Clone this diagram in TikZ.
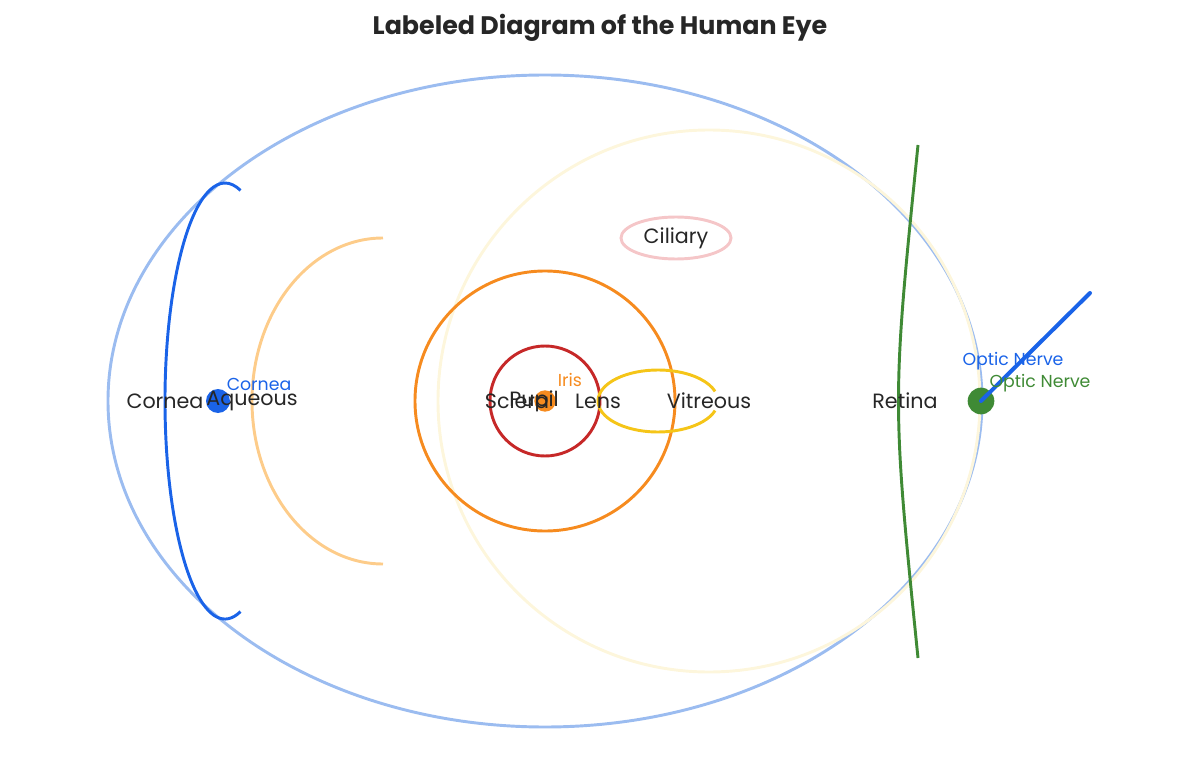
\documentclass[tikz,border=0pt]{standalone}
\usepackage{fontspec}
\setmainfont{Poppins}
\definecolor{lblue}{HTML}{9BBCF0}
\definecolor{cream}{HTML}{FDF6DC}
\definecolor{dblue}{HTML}{1A63E8}
\definecolor{lorange}{HTML}{FDCC8A}
\definecolor{orng}{HTML}{F68B1F}
\definecolor{rd}{HTML}{C62828}
\definecolor{yel}{HTML}{F5C518}
\definecolor{pnk}{HTML}{F5C6C8}
\definecolor{grn}{HTML}{3F8A35}
\begin{document}
\begin{tikzpicture}[x=0.75pt,y=-0.75pt,
  lbl/.style={font=\fontsize{15.5}{17}\selectfont,text=black!85,inner sep=0},
  small/.style={font=\fontsize{13}{15}\selectfont,inner sep=0},
  part/.style={line width=2.2pt}]
\useasboundingbox (0,0) rectangle (1200,763);
\node[font=\bfseries\fontsize{19}{22}\selectfont,text=black!85] (title) at (600,28) {Labeled Diagram of the Human Eye};
\draw[part,lblue] (545,401) ellipse [x radius=437,y radius=326];
\draw[part,cream] (709,401) circle [radius=271];
\draw[part,dblue] (225,401) ++(75:60 and 218) arc [start angle=75,end angle=285,x radius=60,y radius=218];
\draw[part,lorange] (383,238) arc [start angle=270,end angle=90,x radius=131,y radius=163];
\draw[part,orng] (545,401) circle [radius=130];
\draw[part,rd] (545,401) circle [radius=55];
\draw[part,yel] (658,401) ++(18:60 and 31) arc [start angle=18,end angle=342,x radius=60,y radius=31];
\draw[part,pnk] (676,238) ellipse [x radius=55,y radius=21];
\draw[part,grn] (918,145) .. controls (892,401) .. (918,658);
\node[circle,fill=dblue,minimum size=18,inner sep=0] (cdot) at (218,401) {};
\node[circle,fill=orng,minimum size=16,inner sep=0] (idot) at (545,401) {};
\node[circle,fill=grn,minimum size=20,inner sep=0] (odot) at (981,401) {};
\coordinate (oend) at (1090,293);
\draw[line width=3pt,dblue,line cap=round] (odot.center) -- (oend);
\node[lbl] (corneaL) at (165,401) {Cornea};
\node[lbl] (aqueous) at (252,401) {Aqueous};
\node[lbl] (sclera) at (517,401) {Sclera};
\node[lbl] (pupil) at (534,401) {Pupil};
\node[lbl] (lens) at (598,401) {Lens};
\node[lbl] (vitreous) at (709,401) {Vitreous};
\node[lbl] (retina) at (905,401) {Retina};
\node[lbl] (ciliary) at (676,238) {Ciliary};
\node[small,text=dblue] (cornea) at (259,384) {Cornea};
\node[small,text=orng] (iris) at (570,380) {Iris};
\node[small,text=dblue] (onb) at (1013,361) {Optic Nerve};
\node[small,text=grn] (ong) at (1040,383) {Optic Nerve};
\end{tikzpicture}
\end{document}
